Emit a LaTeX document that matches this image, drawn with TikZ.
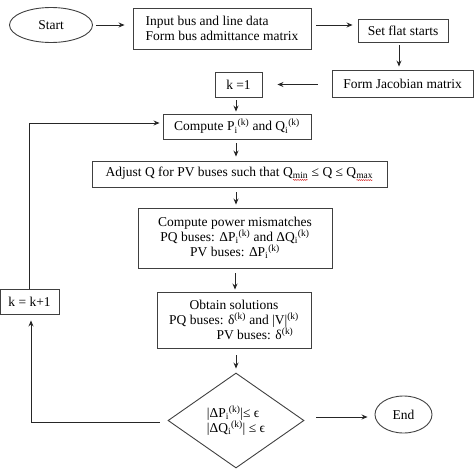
\documentclass[tikz,border=0pt]{standalone}
\usepackage{fontspec}
\setmainfont{Liberation Serif}
\usetikzlibrary{shapes.geometric,arrows.meta,decorations.pathmorphing}
\newcommand\sbi{\textsubscript{i}}
\newcommand\spk{\textsuperscript{(k)}}
\newcommand\spellwave[1]{\tikz[baseline=(w.base)]{\node[inner sep=0pt,outer sep=0pt,draw=none,shape=rectangle,minimum width=0pt,minimum height=0pt,font={},anchor=center](w){#1};\draw[red!80!black,line width=0.4pt,decorate,decoration={snake,amplitude=0.5pt,segment length=2.2pt}]([yshift=-1pt]w.south west)--([yshift=-1pt]w.south east);}}
\begin{document}
\begin{tikzpicture}[x=1pt,y=-1pt,
  every node/.style={font=\fontsize{13.5}{15}\selectfont},
  box/.style={draw=black!75,line width=0.9pt,rectangle,inner sep=0pt,align=center},
  oval/.style={draw=black!75,line width=0.9pt,ellipse,inner sep=0pt},
  arr/.style={-{Stealth[length=6pt,width=5pt]},line width=0.9pt,draw=black!85},
  lin/.style={line width=0.9pt,draw=black!70}]
\useasboundingbox (0,0) rectangle (474,474);
\node[oval,minimum width=83pt,minimum height=35pt] (start) at (51,25) {Start};
\node[box,minimum width=178pt,minimum height=41pt,align=left] (input) at (222,28.5) {Input bus and line data\\Form bus admittance matrix};
\node[box,minimum width=90pt,minimum height=23pt] (flat) at (403,30.5) {Set flat starts};
\node[box,minimum width=141pt,minimum height=27pt] (jac) at (402.5,83.5) {Form Jacobian matrix};
\node[box,minimum width=47pt,minimum height=25pt] (k1) at (238.5,84.5) {k =1};
\node[box,minimum width=148pt,minimum height=25pt] (comp) at (237,126.5) {Compute P\sbi\spk{} and Q\sbi\spk};
\node[box,minimum width=295pt,minimum height=26pt] (adj) at (239.5,174) {Adjust Q for PV buses such that Q\textsubscript{\spellwave{min}} ≤ Q ≤ Q\textsubscript{\spellwave{max}}};
\node[box,minimum width=194pt,minimum height=60pt] (mis) at (235,238) {Compute power mismatches\\PQ buses: ΔP\sbi\spk{} and ΔQ\sbi\spk\\PV buses: ΔP\sbi\spk};
\node[box,minimum width=154pt,minimum height=56pt] (obt) at (234,320) {Obtain solutions\\PQ buses: δ\spk{} and |V|\spk\\\hspace*{42pt}PV buses: δ\spk};
\node[draw=black!75,line width=0.9pt,diamond,inner sep=0pt,minimum width=136pt,minimum height=95pt,align=left] (dec) at (236,420.5) {|ΔP\sbi\spk|≤ ϵ\\|ΔQ\sbi\spk| ≤ ϵ};
\node[oval,minimum width=57pt,minimum height=37pt] (end) at (403.5,414.5) {End};
\node[box,minimum width=59pt,minimum height=25pt] (kk) at (29.5,301.5) {k = k+1};
\draw[arr,shorten <=3pt,shorten >=8pt] ([yshift=0pt]start.east) -- ([yshift=0pt]start.east -| input.west);
\draw[arr,shorten <=5pt,shorten >=5pt] ([yshift=3.5pt]input.east) -- ([yshift=3.5pt]input.east -| flat.west);
\draw[arr,shorten <=3pt,shorten >=3pt] ([xshift=-4pt]flat.south) -- ([xshift=-4pt]flat.south |- jac.north);
\draw[arr,shorten <=14pt,shorten >=15pt] ([yshift=-1pt]jac.west) -- ([yshift=-1pt]jac.west -| k1.east);
\draw[arr,shorten <=3pt,shorten >=2pt] ([xshift=-2.5pt]k1.south) -- ([xshift=-2.5pt]k1.south |- comp.north);
\draw[arr,shorten <=4pt,shorten >=4pt] ([xshift=-1pt]comp.south) -- ([xshift=-1pt]comp.south |- adj.north);
\draw[arr,shorten <=5pt,shorten >=3pt] ([xshift=-3.5pt]adj.south) -- ([xshift=-3.5pt]adj.south |- mis.north);
\draw[arr,shorten <=5pt,shorten >=2pt] (mis.south) -- (mis.south |- obt.north);
\draw[arr,shorten <=7pt,shorten >=4pt] ([xshift=2pt]obt.south) -- ([xshift=2pt]obt.south |- dec.north);
\draw[arr,shorten <=12pt,shorten >=7pt] ([yshift=3.5pt]dec.east) -- ([yshift=3.5pt]dec.east -| end.west);
\draw[arr,shorten <=8pt,shorten >=6pt] ([yshift=-1.5pt]dec.west) -| ([xshift=1.5pt]kk.south);
\draw[arr,shorten >=3pt] ([xshift=-0.5pt]kk.north) |- ([yshift=3.5pt]comp.west);
\end{tikzpicture}
\end{document}
